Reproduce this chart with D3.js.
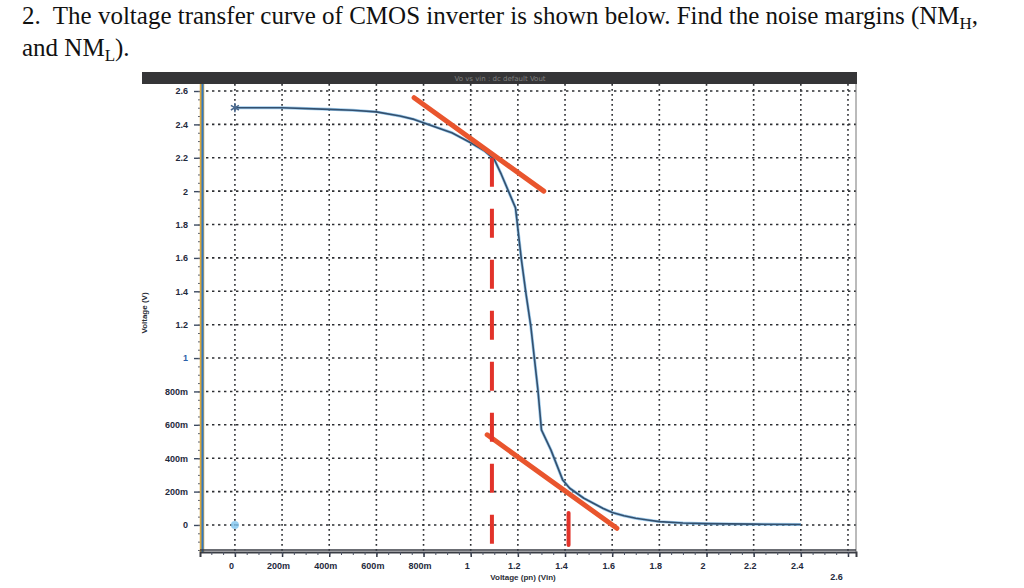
<!DOCTYPE html>
<html>
<head>
<meta charset="utf-8">
<script src="https://cdn.jsdelivr.net/npm/d3@7/dist/d3.min.js"></script>
<style>
  body { margin: 0; background: #fff; }
  svg { display: block; }
</style>
</head>
<body>
<div id="chart"></div>
<script>
// transfer curve (Vin -> Vout)
let vin_values = [0, 0.2, 0.4, 0.5, 0.6, 0.7, 0.76, 0.82, 0.88, 0.92, 0.96, 1.0, 1.06, 1.10, 1.13, 1.16, 1.19, 1.215, 1.235, 1.255, 1.27, 1.285, 1.30, 1.34, 1.39, 1.42, 1.45, 1.48, 1.52, 1.56, 1.6, 1.65, 1.7, 1.75, 1.8, 1.9, 2.0, 2.2, 2.4]
let vout_values = [2.5, 2.5, 2.49, 2.485, 2.475, 2.45, 2.43, 2.40, 2.37, 2.35, 2.32, 2.29, 2.24, 2.19, 2.10, 2.00, 1.90, 1.59, 1.38, 1.19, 1.0, 0.81, 0.57, 0.45, 0.27, 0.22, 0.19, 0.16, 0.13, 0.10, 0.075, 0.055, 0.04, 0.03, 0.02, 0.012, 0.008, 0.005, 0.003]

let x_ticks = [0, 0.2, 0.4, 0.6, 0.8, 1, 1.2, 1.4, 1.6, 1.8, 2, 2.2, 2.4, 2.6]
let y_ticks = [0, 0.2, 0.4, 0.6, 0.8, 1, 1.2, 1.4, 1.6, 1.8, 2, 2.2, 2.4, 2.6]

// hand drawn marks (tangent lines and the dashed drop lines)
let tangent_high = [[0.76, 2.56], [1.31, 2.0]]
let tangent_low = [[1.07, 0.54], [1.62, -0.02]]
let drop_line = [[1.09, 2.2], [1.09, -0.16]]
let short_mark = [[1.415, 0.072], [1.415, -0.12]]

let width = 1024
let height = 588

let svg = d3.select("#chart").append("svg")
    .attr("width", width)
    .attr("height", height)

// question text
let question = svg.append("g")
    .style("font-family", "'Liberation Serif', 'Times New Roman', serif")
    .style("font-size", "25px")
    .style("fill", "#111")

let line1 = question.append("text").attr("x", 22).attr("y", 24)
    .attr("xml:space", "preserve")
line1.append("tspan").text("2.  The voltage transfer curve of CMOS inverter is shown below. Find the noise margins (NM")
line1.append("tspan").attr("dy", 5).style("font-size", "17px").text("H")
line1.append("tspan").attr("dy", -5).text(",")

let line2 = question.append("text").attr("x", 22).attr("y", 56)
line2.append("tspan").text("and NM")
line2.append("tspan").attr("dy", 5).style("font-size", "17px").text("L")
line2.append("tspan").attr("dy", -5).text(").")

// plot frame
let plot_left = 200, plot_right = 856, plot_top = 84, plot_bottom = 552

let x = d3.scaleLinear().domain([-0.148, 2.634]).range([plot_left, plot_right])
let y = d3.scaleLinear().domain([-0.162, 2.642]).range([plot_bottom, plot_top])

let fmt = (v) => {
    if (v == 0) return "0"
    if (v < 1) return Math.round(v * 1000) + "m"
    return d3.format("~g")(v)
}

// title bar
svg.append("rect")
    .attr("x", 142).attr("y", 72)
    .attr("width", plot_right - 142 + 1).attr("height", 12)
    .style("fill", "#353537")
svg.append("text")
    .attr("x", 500).attr("y", 81)
    .attr("text-anchor", "middle")
    .style("font-family", "'DejaVu Sans', sans-serif")
    .style("font-size", "7px")
    .style("fill", "#808080")
    .text("Vo vs vin  :  dc  default  Vout")

// grid
let grid = svg.append("g")
grid.selectAll(".vgrid")
    .data(x_ticks)
    .enter().append("line")
    .attr("x1", (d) => x(d)).attr("x2", (d) => x(d))
    .attr("y1", plot_top).attr("y2", plot_bottom)
    .style("stroke", "#2d2f33")
    .style("stroke-width", 1.6)
    .style("stroke-dasharray", "1.8,3.2")
grid.selectAll(".hgrid")
    .data(y_ticks)
    .enter().append("line")
    .attr("x1", plot_left).attr("x2", plot_right)
    .attr("y1", (d) => y(d)).attr("y2", (d) => y(d))
    .style("stroke", "#2d2f33")
    .style("stroke-width", 1.6)
    .style("stroke-dasharray", "2.4,3.6")

// right edge
svg.append("line")
    .attr("x1", plot_right).attr("x2", plot_right).attr("y1", plot_top).attr("y2", plot_bottom)
    .style("stroke", "#777").style("stroke-width", 1)

// y axis
let y_axis = svg.append("g")
    .attr("transform", "translate(" + (plot_left + 2) + ",0)")
    .call(d3.axisLeft(y).tickValues(y_ticks).tickFormat(fmt).tickSize(8).tickPadding(6))
y_axis.select(".domain").remove()
y_axis.selectAll("line").style("stroke", "#3c4a60").style("stroke-width", 1.4)
y_axis.selectAll("text")
    .style("font-family", "'Liberation Sans', Arial, sans-serif")
    .style("font-weight", "bold")
    .style("font-size", "9px")
    .style("fill", (d) => d == 1 ? "#2d5fa8" : "#1f2a3d")

let y_minor = svg.append("g")
    .attr("transform", "translate(" + (plot_left + 2) + ",0)")
    .call(d3.axisLeft(y).ticks(60).tickFormat("").tickSize(4))
y_minor.select(".domain").remove()
y_minor.selectAll("line").style("stroke", "#5a6070")

svg.append("line")
    .attr("x1", plot_left + 2).attr("x2", plot_left + 2).attr("y1", plot_top).attr("y2", plot_bottom)
    .style("stroke", "#d8a640").style("stroke-width", 4.5)
svg.append("line")
    .attr("x1", plot_left + 2.5).attr("x2", plot_left + 2.5).attr("y1", plot_top).attr("y2", plot_bottom)
    .style("stroke", "#2f78c4").style("stroke-width", 2)

// x axis
svg.append("line")
    .attr("x1", plot_left).attr("x2", plot_right).attr("y1", plot_bottom - 2).attr("y2", plot_bottom - 2)
    .style("stroke", "#3a3d44").style("stroke-width", 1.5)
let x_axis = svg.append("g")
    .attr("transform", "translate(0," + plot_bottom + ")")
    .call(d3.axisBottom(x).tickValues(x_ticks).tickFormat(fmt).tickSize(5).tickPadding(6))
x_axis.select(".domain").style("stroke", "#3a3d44").style("stroke-width", 2)
x_axis.selectAll("line").style("stroke", "#2d3340").style("stroke-width", 1.5)
x_axis.selectAll("text")
    .attr("dx", (d) => d == 2.6 ? -12 : -4)
    .attr("dy", (d) => d == 2.6 ? "1.9em" : "0.71em")
    .style("font-family", "'Liberation Sans', Arial, sans-serif")
    .style("font-weight", "bold")
    .style("font-size", "9px")
    .style("fill", "#1f2a3d")

let x_minor = svg.append("g")
    .attr("transform", "translate(0," + plot_bottom + ")")
    .call(d3.axisBottom(x).ticks(70).tickFormat("").tickSize(3))
x_minor.select(".domain").remove()
x_minor.selectAll("line").style("stroke", "#4a5060")

// axis titles
svg.append("text")
    .attr("transform", "translate(147,313) rotate(-90)")
    .attr("text-anchor", "middle")
    .style("font-family", "'Liberation Sans', Arial, sans-serif")
    .style("font-weight", "bold")
    .style("font-size", "8px")
    .style("fill", "#2a2e36")
    .text("Voltage (V)")
svg.append("text")
    .attr("x", 523).attr("y", 580)
    .attr("text-anchor", "middle")
    .style("font-family", "'Liberation Sans', Arial, sans-serif")
    .style("font-weight", "bold")
    .style("font-size", "8px")
    .style("fill", "#2a2e36")
    .text("Voltage (pn) (Vin)")

// transfer curve, straight segments like the simulator output
let curve_points = vin_values.map((v, i) => [v, vout_values[i]])
let line_gen = d3.line()
    .x((d) => x(d[0]))
    .y((d) => y(d[1]))

svg.append("path")
    .datum(curve_points)
    .attr("d", line_gen)
    .style("fill", "none")
    .style("stroke", "#5aa7e0")
    .style("stroke-width", 3)
    .style("stroke-linejoin", "round")
    .style("opacity", 0.6)
svg.append("path")
    .datum(curve_points)
    .attr("d", line_gen)
    .style("fill", "none")
    .style("stroke", "#34506e")
    .style("stroke-width", 1.6)
    .style("stroke-linejoin", "round")

// start markers
let star = d3.symbol().type(d3.symbolAsterisk).size(60)
svg.append("path")
    .attr("d", star)
    .attr("transform", "translate(" + x(vin_values[0]) + "," + y(vout_values[0]) + ")")
    .style("fill", "none").style("stroke", "#4a6a90").style("stroke-width", 1.5)
svg.append("circle")
    .attr("cx", x(0)).attr("cy", y(0)).attr("r", 4)
    .style("fill", "#7fc4ef").style("opacity", 0.8)

// red annotations
let plain = d3.line().x((d) => x(d[0])).y((d) => y(d[1]))
svg.append("path").datum(tangent_high).attr("d", plain)
    .style("stroke", "#e9552d").style("stroke-width", 5).style("stroke-linecap", "round")
svg.append("path").datum(tangent_low).attr("d", plain)
    .style("stroke", "#e9552d").style("stroke-width", 5).style("stroke-linecap", "round")
svg.append("path").datum(drop_line).attr("d", plain)
    .style("stroke", "#e2332a").style("stroke-width", 4)
    .style("stroke-dasharray", "29,22")
svg.append("path").datum(short_mark).attr("d", plain)
    .style("stroke", "#e2332a").style("stroke-width", 4).style("stroke-linecap", "round")
</script>
</body>
</html>
